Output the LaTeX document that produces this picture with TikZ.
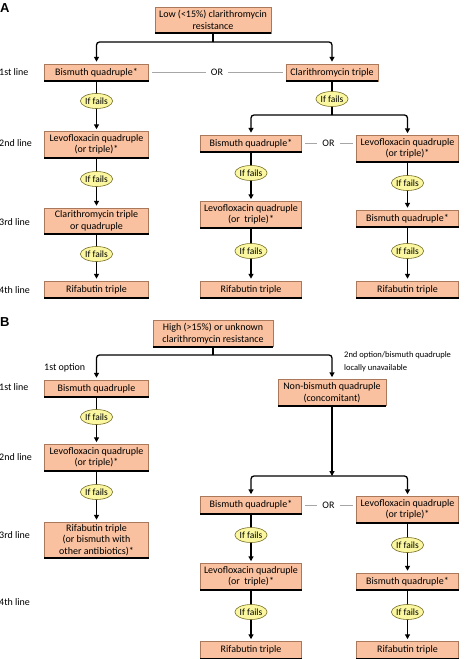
\documentclass[tikz,border=0pt]{standalone}
\usepackage{fontspec}
\setmainfont{Carlito}
\newfontfamily\hvb{Liberation Sans}
\usetikzlibrary{shapes.geometric,arrows.meta}
\definecolor{salmon}{RGB}{249,193,159}
\definecolor{boxedge}{RGB}{170,120,90}
\definecolor{ifyel}{RGB}{250,247,160}
\definecolor{ifedge}{RGB}{120,110,40}
\tikzset{
  box/.style={draw=boxedge, line width=0.5pt, fill=salmon, align=center,
    inner sep=1pt, minimum height=17, minimum width=104,
    font=\fontsize{10}{11.5}\selectfont,
    append after command={(\tikzlastnode.south west) edge[black, line width=1.8pt] (\tikzlastnode.south east)}},
  iff/.style={ellipse, draw=ifedge, line width=0.6pt, fill=ifyel, inner sep=0pt,
    minimum width=31, minimum height=15, font=\fontsize{9.5}{10}\selectfont},
  conn/.style={line width=1.3pt, black},
  arr/.style={conn, -{Triangle[length=5pt,width=5pt]}, shorten >=2pt},
  orline/.style={gray!70, line width=0.6pt},
  ortxt/.style={inner sep=5pt, font=\fontsize{10}{11}\selectfont},
  lbl/.style={anchor=west, inner sep=0pt, font=\fontsize{10}{11}\selectfont},
  small/.style={anchor=north west, inner sep=0pt, align=left, font=\fontsize{8.5}{12.5}\selectfont},
  panel/.style={anchor=north west, inner sep=0pt, font=\hvb\bfseries\fontsize{13}{13}\selectfont}
}
\begin{document}
\begin{tikzpicture}[x=1pt,y=-1pt]
\useasboundingbox (0,0) rectangle (474,659);
% ---------------- Panel A ----------------
\node[panel] (pA) at (0,3) {A};
\node[box, minimum width=116, minimum height=26] (topA) at (213,20) {Low (\textless15\%) clarithromycin\\resistance};
\coordinate (brA0) at (213,42);
\node[lbl] (l1A) at (-1,72.5) {1st line};
\node[lbl] (l2A) at (-1,143.5) {2nd line};
\node[lbl] (l3A) at (-1,222) {3rd line};
\node[lbl] (l4A) at (-1,290) {4th line};

\node[box] (bisA1) at (96.5,72.5) {Bismuth quadruple*};
\node[box, minimum width=92] (claA1) at (332,72.5) {Clarithromycin triple};
\node[ortxt] (orA1) at (217,72.5) {OR};

\node[iff] (ifA1) at (96.5,101) {If fails};
\node[box, minimum height=26] (levA1) at (96.5,144.5) {Levofloxacin quadruple\\(or triple)*};
\node[iff] (ifA1b) at (96.5,179) {If fails};
\node[box, minimum height=26] (claA3) at (96.5,221) {Clarithromycin triple\\or quadruple};
\node[iff] (ifA1c) at (96.5,254) {If fails};
\node[box] (rifA1) at (96.5,289.5) {Rifabutin triple};

\node[iff] (ifA2) at (332,99) {If fails};
\coordinate (brA1) at (332,115);
\node[box, minimum width=101] (bisA2) at (251,143.5) {Bismuth quadruple*};
\node[box, minimum width=102, minimum height=26] (levA2) at (407.5,148.5) {Levofloxacin quadruple\\(or triple)*};
\node[ortxt] (orA2) at (328.5,143.5) {OR};
\node[iff] (ifA2m) at (251,173) {If fails};
\node[box, minimum width=101, minimum height=26] (levA3) at (251,214.5) {Levofloxacin quadruple\\(or\ \ triple)*};
\node[iff] (ifA3m) at (251,251) {If fails};
\node[box, minimum width=101] (rifA2) at (251,289.5) {Rifabutin triple};
\node[iff] (ifA2r) at (407.5,183) {If fails};
\node[box, minimum width=102] (bisA3) at (407.5,218.5) {Bismuth quadruple*};
\node[iff] (ifA3r) at (407.5,251) {If fails};
\node[box, minimum width=102] (rifA3) at (407.5,289.5) {Rifabutin triple};

\draw[conn] (topA.south) -- (brA0);
\draw[arr, rounded corners=3] (brA0) -| (bisA1.north);
\draw[arr, rounded corners=3] (brA0) -| (claA1.north);
\draw[orline] ([xshift=3]bisA1.east) -- (orA1.west);
\draw[orline] (orA1.east) -- ([xshift=-3]claA1.west);
\draw[conn] (bisA1) -- (ifA1);
\draw[arr] (ifA1) -- (levA1);
\draw[conn] (levA1) -- (ifA1b);
\draw[arr] (ifA1b) -- (claA3);
\draw[conn] (claA3) -- (ifA1c);
\draw[arr] (ifA1c) -- (rifA1);
\draw[conn] (claA1) -- (ifA2);
\draw[conn] (ifA2) -- (brA1);
\draw[arr, rounded corners=3] (brA1) -| (bisA2.north);
\draw[arr, rounded corners=3] (brA1) -| (levA2.north);
\draw[orline] ([xshift=3]bisA2.east) -- (orA2.west);
\draw[orline] (orA2.east) -- ([xshift=-3]orA2.east -| levA2.west);
\draw[conn] (bisA2) -- (ifA2m);
\draw[arr] (ifA2m) -- (levA3);
\draw[conn] (levA3) -- (ifA3m);
\draw[arr] (ifA3m) -- (rifA2);
\draw[conn] (levA2) -- (ifA2r);
\draw[arr] (ifA2r) -- (bisA3);
\draw[conn] (bisA3) -- (ifA3r);
\draw[arr] (ifA3r) -- (rifA3);

% ---------------- Panel B ----------------
\node[panel] (pB) at (0,317) {B};
\node[box, minimum width=120, minimum height=26] (topB) at (213,333.5) {High (\textgreater15\%) or unknown\\clarithromycin resistance};
\coordinate (brB0) at (213,355);
\node[lbl] (opt1) at (44,368) {1st option};
\node[small] (opt2) at (344,351.5) {2nd option/bismuth quadruple\\locally unavailable};
\node[lbl] (l1B) at (-1,387.5) {1st line};
\node[lbl] (l2B) at (-1,457.5) {2nd line};
\node[lbl] (l3B) at (-1,535) {3rd line};
\node[lbl] (l4B) at (-1,602) {4th line};

\node[box] (bisB1) at (96.5,388.5) {Bismuth quadruple};
\node[box, minimum width=108, minimum height=26] (nbB) at (332,392.5) {Non-bismuth quadruple\\(concomitant)};
\node[iff] (ifB1) at (96.5,417) {If fails};
\node[box, minimum height=26] (levB1) at (96.5,457.5) {Levofloxacin quadruple\\(or triple)*};
\node[iff] (ifB1b) at (96.5,492) {If fails};
\node[box, minimum height=36] (rifB1) at (96.5,540) {Rifabutin triple\\(or bismuth with\\other antibiotics)*};

\coordinate (brB1) at (332,476);
\node[box, minimum width=101] (bisB2) at (251,505) {Bismuth quadruple*};
\node[box, minimum width=102, minimum height=26] (levB2) at (407.5,509.5) {Levofloxacin quadruple\\(or triple)*};
\node[ortxt] (orB2) at (328.5,505) {OR};
\node[iff] (ifB2m) at (251,535) {If fails};
\node[box, minimum width=101, minimum height=26] (levB3) at (251,576.5) {Levofloxacin quadruple\\(or\ \ triple)*};
\node[iff] (ifB3m) at (251,612) {If fails};
\node[box, minimum width=101] (rifB2) at (251,650) {Rifabutin triple};
\node[iff] (ifB2r) at (407.5,545) {If fails};
\node[box, minimum width=102] (bisB3) at (407.5,581.5) {Bismuth quadruple*};
\node[iff] (ifB3r) at (407.5,612) {If fails};
\node[box, minimum width=102] (rifB3) at (407.5,650) {Rifabutin triple};

\draw[conn] (topB.south) -- (brB0);
\draw[arr, rounded corners=3] (brB0) -| (bisB1.north);
\draw[arr, rounded corners=3] (brB0) -| (nbB.north);
\draw[conn] (bisB1) -- (ifB1);
\draw[arr] (ifB1) -- (levB1);
\draw[conn] (levB1) -- (ifB1b);
\draw[arr] (ifB1b) -- (rifB1);
\draw[arr, shorten >=0pt] (nbB) -- (brB1);
\draw[arr, rounded corners=3] (brB1) -| (bisB2.north);
\draw[arr, rounded corners=3] (brB1) -| (levB2.north);
\draw[orline] ([xshift=3]bisB2.east) -- (orB2.west);
\draw[orline] (orB2.east) -- ([xshift=-3]orB2.east -| levB2.west);
\draw[conn] (bisB2) -- (ifB2m);
\draw[arr] (ifB2m) -- (levB3);
\draw[conn] (levB3) -- (ifB3m);
\draw[arr] (ifB3m) -- (rifB2);
\draw[conn] (levB2) -- (ifB2r);
\draw[arr] (ifB2r) -- (bisB3);
\draw[conn] (bisB3) -- (ifB3r);
\draw[arr] (ifB3r) -- (rifB3);
\end{tikzpicture}
\end{document}
